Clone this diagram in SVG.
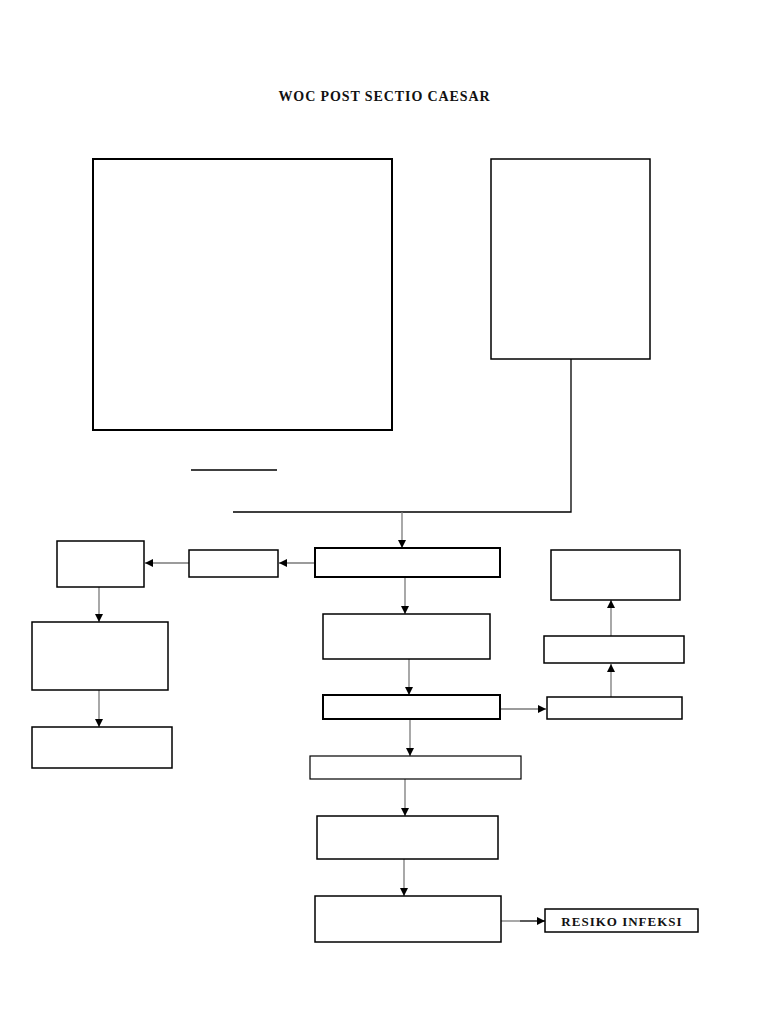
<svg xmlns="http://www.w3.org/2000/svg" width="768" height="1024" viewBox="0 0 768 1024">
<style>
.box{fill:#fff;stroke:#000;stroke-width:1.5}
.thick{stroke-width:2}
.conn{fill:none;stroke:#7a7a7a;stroke-width:1.3}
.line{fill:none;stroke:#000;stroke-width:1.3}
.t{font-family:"Liberation Serif","Times New Roman",serif;font-weight:bold;fill:#111}
</style>
<defs>
<marker id="ah" viewBox="0 0 10 10" refX="10" refY="5" markerWidth="8" markerHeight="8" markerUnits="userSpaceOnUse" orient="auto">
<path d="M0,0 L10,5 L0,10 z" fill="#000"/>
</marker>
</defs>
<rect width="768" height="1024" fill="#fff"/>
<text class="t" x="384.5" y="101" font-size="14" letter-spacing="0.9" text-anchor="middle">WOC POST SECTIO CAESAR</text>

<g id="connectors">
<line class="line" x1="191" y1="470" x2="277" y2="470"/>
<polyline class="line" points="571,359 571,512 233,512"/>
<line class="conn" x1="402" y1="512" x2="402" y2="548" marker-end="url(#ah)"/>
<line class="conn" x1="315" y1="563" x2="279" y2="563" marker-end="url(#ah)"/>
<line class="conn" x1="189" y1="563" x2="145" y2="563" marker-end="url(#ah)"/>
<line class="conn" x1="99" y1="587" x2="99" y2="622" marker-end="url(#ah)"/>
<line class="conn" x1="99" y1="690" x2="99" y2="727" marker-end="url(#ah)"/>
<line class="conn" x1="405" y1="577" x2="405" y2="614" marker-end="url(#ah)"/>
<line class="conn" x1="409" y1="659" x2="409" y2="695" marker-end="url(#ah)"/>
<line class="conn" x1="500" y1="709" x2="546" y2="709" marker-end="url(#ah)"/>
<line class="conn" x1="611" y1="697" x2="611" y2="664" marker-end="url(#ah)"/>
<line class="conn" x1="611" y1="636" x2="611" y2="600" marker-end="url(#ah)"/>
<line class="conn" x1="410" y1="719" x2="410" y2="756" marker-end="url(#ah)"/>
<line class="conn" x1="405" y1="779" x2="405" y2="816" marker-end="url(#ah)"/>
<line class="conn" x1="404" y1="859" x2="404" y2="896" marker-end="url(#ah)"/>
<polyline class="conn" points="501,921 520,921"/>
<line class="line" x1="520" y1="921" x2="545" y2="921" marker-end="url(#ah)"/>
</g>

<g id="node-big"><rect class="box thick" x="93" y="159" width="299" height="271"/></g>
<g id="node-right"><rect class="box" x="491" y="159" width="159" height="200"/></g>
<g id="node-a"><rect class="box thick" x="315" y="548" width="185" height="29"/></g>
<g id="node-b"><rect class="box" x="189" y="550" width="89" height="27"/></g>
<g id="node-c"><rect class="box" x="57" y="541" width="87" height="46"/></g>
<g id="node-d"><rect class="box" x="32" y="622" width="136" height="68"/></g>
<g id="node-e"><rect class="box" x="32" y="727" width="140" height="41"/></g>
<g id="node-f"><rect class="box" x="323" y="614" width="167" height="45"/></g>
<g id="node-g"><rect class="box thick" x="323" y="695" width="177" height="24"/></g>
<g id="node-h"><rect class="box" x="547" y="697" width="135" height="22"/></g>
<g id="node-i"><rect class="box" x="544" y="636" width="140" height="27"/></g>
<g id="node-j"><rect class="box" x="551" y="550" width="129" height="50"/></g>
<g id="node-k"><rect class="box" x="310" y="756" width="211" height="23" style="stroke-width:1.2"/></g>
<g id="node-l"><rect class="box" x="317" y="816" width="181" height="43"/></g>
<g id="node-m"><rect class="box" x="315" y="896" width="186" height="46"/></g>
<g id="node-n"><rect class="box" x="545" y="909" width="153" height="23"/><text class="t" x="622" y="926" font-size="13" letter-spacing="1" text-anchor="middle">RESIKO INFEKSI</text></g>
</svg>
